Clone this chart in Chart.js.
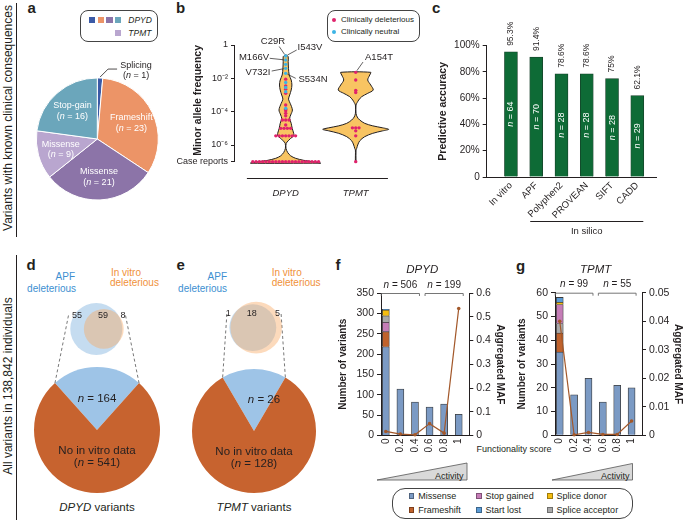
<!DOCTYPE html>
<html>
<head>
<meta charset="utf-8">
<script src="https://cdn.jsdelivr.net/npm/chart.js@4.4.1/dist/chart.umd.min.js"></script>
<style>
  body { margin: 0; background: #fff; }
  #fig { position: relative; width: 685px; height: 520px; overflow: hidden; font-family: "Liberation Sans", Arial, sans-serif; color: #231f20; }
  #fig canvas { position: absolute; }
  .tx { position: absolute; white-space: nowrap; line-height: 1; }
  .mid { transform: translate(-50%, -50%); }
  .lm { transform: translate(0, -50%); }
  .rm { transform: translate(-100%, -50%); }
  .panel { position: absolute; font-weight: bold; font-size: 15px; line-height: 1; }
  .vert { position: absolute; white-space: nowrap; font-size: 12px; line-height: 1; transform: translate(-50%, -50%) rotate(-90deg); }
  .box { position: absolute; border: 1px solid #444; box-sizing: border-box; }
  .sq { position: absolute; }
</style>
</head>
<body>
<div id="fig">
  <svg width="685" height="520" style="position:absolute;left:0;top:0">
    <line x1="16.5" y1="3" x2="16.5" y2="237" stroke="#231f20" stroke-width="1"/>
    <line x1="16.5" y1="255" x2="16.5" y2="520" stroke="#231f20" stroke-width="1"/>
    <polygon points="377,480 467,480 467,463" fill="#d9d9d9" stroke="#555" stroke-width="0.8"/>
    <polygon points="552,480 632.5,480 632.5,463.5" fill="#d9d9d9" stroke="#555" stroke-width="0.8"/>
  </svg>

  <div class="panel" style="left:27.5px;top:0px">a</div>
  <div class="panel" style="left:176px;top:0px">b</div>
  <div class="panel" style="left:432px;top:0px">c</div>
  <div class="panel" style="left:26.5px;top:256.5px">d</div>
  <div class="panel" style="left:176.5px;top:256.5px">e</div>
  <div class="panel" style="left:335.5px;top:256.5px">f</div>
  <div class="panel" style="left:516px;top:257.5px">g</div>

  <div class="vert" style="left:8px;top:118px">Variants with known clinical consequences</div>
  <div class="vert" style="left:8px;top:386px">All variants in 138,842 individuals</div>

  <div class="box" style="left:80px;top:10px;width:78px;height:32px;border-radius:8px"></div>
  <div class="tx lm" style="left:128.3px;top:20px;font-size:8.5px;font-style:italic">DPYD</div>
  <div class="tx lm" style="left:128.3px;top:32.7px;font-size:8.5px;font-style:italic">TPMT</div>

  <div class="box" style="left:326.7px;top:10px;width:93.3px;height:31.7px;border-radius:8px"></div>
  <div class="sq" style="left:332.3px;top:18px;width:4px;height:4px;border-radius:50%;background:#e0236c"></div>
  <div class="tx lm" style="left:341px;top:20px;font-size:8px">Clinically deleterious</div>
  <div class="sq" style="left:332.3px;top:30.3px;width:4px;height:4px;border-radius:50%;background:#3cb4e5"></div>
  <div class="tx lm" style="left:341px;top:32.3px;font-size:8px">Clinically neutral</div>

  <div class="tx rm" style="left:75px;top:276.7px;font-size:10px;color:#3d8fd1">APF</div>
  <div class="tx rm" style="left:76px;top:289px;font-size:10px;color:#3d8fd1">deleterious</div>
  <div class="tx lm" style="left:111px;top:272.7px;font-size:10px;color:#f0913a">In vitro</div>
  <div class="tx lm" style="left:110px;top:283.3px;font-size:10px;color:#f0913a">deleterious</div>
  <div class="tx rm" style="left:227px;top:276.7px;font-size:10px;color:#3d8fd1">APF</div>
  <div class="tx rm" style="left:227px;top:289px;font-size:10px;color:#3d8fd1">deleterious</div>
  <div class="tx lm" style="left:271.7px;top:272.7px;font-size:10px;color:#f0913a">In vitro</div>
  <div class="tx lm" style="left:271.7px;top:283.3px;font-size:10px;color:#f0913a">deleterious</div>
  <div class="tx mid" style="left:97px;top:508px;font-size:11.5px"><i>DPYD</i> variants</div>
  <div class="tx mid" style="left:254px;top:508px;font-size:11.5px"><i>TPMT</i> variants</div>

  <div class="tx mid" style="left:514px;top:449px;font-size:9px">Functionality score</div>
  <div class="tx rm" style="left:463.5px;top:475.5px;font-size:9px">Activity</div>
  <div class="tx rm" style="left:629.5px;top:475.5px;font-size:9px">Activity</div>
  <div class="box" style="left:391.7px;top:488.3px;width:241.6px;height:31px;border-radius:13px"></div>
</div>

<script>
// ---- a: variants with known clinical consequences ----
const aLabels = ['Splicing', 'Frameshift', 'Missense', 'Missense', 'Stop-gain'];
const aGenes = ['DPYD', 'DPYD', 'DPYD', 'TPMT', 'DPYD'];
const aCounts = [1, 23, 21, 9, 16];

// ---- b: minor allele frequency (log10); case reports sit at -7 ----
const bGenes = ['DPYD', 'TPMT'];
const bTickValues = [0, -2, -4, -6, -7];
const bTickLabels = ['1', '10⁻²', '10⁻⁴', '10⁻⁶', 'Case reports'];
const dpydViolinLog = [-7.09, -7.0, -6.92, -6.8, -6.65, -6.45, -6.2, -5.9, -5.75, -5.6, -5.45, -5.3, -5.0, -4.7, -4.4, -4.2, -3.9, -3.5, -3.25, -3.0, -2.7, -2.4, -2.1, -1.8, -1.4, -1.0, -0.7, -0.6];
const dpydViolinDensity = [35, 27, 18, 10, 5, 2, 0.3, 0.5, 2.5, 5, 8, 8, 6.5, 5.5, 4, 5, 6.7, 4.5, 2.8, 4, 5.5, 6.2, 5.5, 3.5, 2.8, 2.5, 2.5, 0.5];
const tpmtViolinLog = [-7.0, -6.3, -6.2, -6.0, -5.75, -5.5, -5.3, -5.15, -5.06, -4.97, -4.85, -4.7, -4.5, -4.32, -4.1, -3.6, -3.45, -3.3, -3.1, -2.9, -2.7, -2.4, -2.1, -1.8, -1.64];
const tpmtViolinDensity = [0.3, 0.3, 1, 2, 4, 9, 17, 27, 33, 27, 17, 9, 4, 1.5, 0.3, 0.3, 1.5, 3, 6, 12, 17.5, 15, 12, 14, 15];
const dpydNeutralLog = [-0.66, -0.9, -1.16, -1.4, -1.7, -2.25, -2.55, -2.8, -3.8];
const dpydDeleteriousLog = [-2.05, -2.45, -2.65, -2.9, -3.6, -3.85, -3.95, -4.1, -4.25, -4.5, -4.5, -4.5, -4.8, -5.0, -5.0, -5.0, -5.0,
  -5.45, -5.45, -5.45, -5.45, -5.45, -5.45, -5.45,
  -7, -7, -7, -7, -7, -7, -7, -7, -7, -7, -7, -7, -7, -7, -7, -7, -7, -7, -7, -7, -7];
const tpmtDeleteriousLog = [-1.64, -2.1, -2.72, -2.85, -4.97, -4.97, -4.97, -5.15, -5.45, -7];
const bVariantNames = ['C29R', 'I543V', 'M166V', 'V732I', 'S534N', 'A154T'];

// ---- c: predictive accuracy ----
const cLabels = ['In vitro', 'APF', 'Polyphen2', 'PROVEAN', 'SIFT', 'CADD'];
const cAccuracy = [95.3, 91.4, 78.6, 78.6, 75, 62.1];
const cN = [64, 70, 28, 28, 28, 29];
const cSilicoFrom = 1;

// ---- d, e: in vitro coverage ----
const dPie = [164, 541];           // with in vitro data, without
const dVenn = [55, 59, 8];         // APF only, both, in vitro only
const ePie = [26, 128];
const eVenn = [1, 18, 5];

// ---- f, g: functionality score ----
const fgScores = [0, 0.2, 0.4, 0.6, 0.8, 1];
const fgTickLabels = ['0', '0.2', '0.4', '0.6', '0.8', '1'];
const dpydMissense = [218, 114, 82, 70, 77, 52];
const dpydFrameshift = [37, 0, 0, 0, 0, 0];
const dpydStopGained = [23, 0, 0, 0, 0, 0];
const dpydSpliceAcceptor = [16, 0, 0, 0, 0, 0];
const dpydSpliceDonor = [14, 0, 0, 0, 0, 0];
const dpydStartLost = [2, 0, 0, 0, 0, 0];
const dpydMaf = [0.017, 0.006, 0.003, 0.05, 0.01, 0.535];
const tpmtMissense = [35, 17, 24, 14, 21, 20];
const tpmtFrameshift = [8, 0, 0, 0, 0, 0];
const tpmtStopGained = [8, 0, 0, 0, 0, 0];
const tpmtSpliceAcceptor = [4, 0, 0, 0, 0, 0];
const tpmtSpliceDonor = [1, 0, 0, 0, 0, 0];
const tpmtStartLost = [2, 0, 0, 0, 0, 0];
const tpmtMaf = [0.040, 0.0002, 0.001, 0.0003, 0.0003, 0.005];

// ---------------------------------------------------------------
const AX = '#231f20';
const FONT = '"Liberation Sans", Arial, Helvetica, sans-serif';
Chart.defaults.font.family = FONT;
Chart.defaults.font.size = 10;
Chart.defaults.color = AX;
Chart.defaults.animation = false;
Chart.defaults.responsive = false;
Chart.defaults.events = [];
Chart.defaults.plugins.legend.display = false;
Chart.defaults.plugins.tooltip.enabled = false;

const fig = document.getElementById('fig');

function canvasAt(box) {
  const c = document.createElement('canvas');
  c.width = box.w; c.height = box.h;
  c.style.left = box.l + 'px'; c.style.top = box.t + 'px';
  c.style.width = box.w + 'px'; c.style.height = box.h + 'px';
  fig.appendChild(c);
  return c;
}
function padFor(box, area, wl, wr, ht, hb) {
  return { left: area.l - box.l - wl, top: area.t - box.t - ht,
           right: box.l + box.w - area.r - wr, bottom: box.t + box.h - area.b - hb };
}
const fixW = w => s => { s.width = w; };
const fixH = h => s => { s.height = h; };

function richText(ctx, parts, x, y, size, color, align, weight) {
  ctx.save();
  ctx.fillStyle = color; ctx.textBaseline = 'middle'; ctx.textAlign = 'left';
  const fonts = parts.map(p => (p[1] ? 'italic ' : '') + (weight ? weight + ' ' : '') + size + 'px ' + FONT);
  const widths = parts.map((p, i) => { ctx.font = fonts[i]; return ctx.measureText(p[0]).width; });
  const total = widths.reduce((a, b) => a + b, 0);
  let cx = align === 'left' ? x : align === 'right' ? x - total : x - total / 2;
  parts.forEach((p, i) => { ctx.font = fonts[i]; ctx.fillText(p[0], cx, y); cx += widths[i]; });
  ctx.restore();
}
const nParts = n => [['n', true], [' = ' + n, false]];
const nParen = n => [['(', false], ['n', true], [' = ' + n + ')', false]];

function addSquare(x, y, size, color, border) {
  const d = document.createElement('div');
  d.className = 'sq';
  Object.assign(d.style, { left: x + 'px', top: y + 'px', width: size + 'px', height: size + 'px', background: color, boxSizing: 'border-box' });
  if (border) d.style.border = '0.5px solid rgba(0,0,0,0.35)';
  fig.appendChild(d);
}
function addText(text, x, y, size) {
  const d = document.createElement('div');
  d.className = 'tx lm';
  Object.assign(d.style, { left: x + 'px', top: y + 'px', fontSize: size + 'px' });
  d.textContent = text;
  fig.appendChild(d);
}

// ================= a =================
const aColors = ['#3b5aa6', '#ec9467', '#8c74a8', '#b9a6cf', '#6ba6bb'];
const aBox = { l: 25, t: 50, w: 150, h: 180 };
const aCenter = { x: 97.3, y: 139 }, aRadius = 61.5;
// legend squares: DPYD row, TPMT row, right aligned
const dpydIdx = aGenes.map((g, i) => g === 'DPYD' ? i : -1).filter(i => i >= 0);
const tpmtIdx = aGenes.map((g, i) => g === 'TPMT' ? i : -1).filter(i => i >= 0);
[[dpydIdx, 17], [tpmtIdx, 29.7]].forEach(([idx, top]) => {
  idx.forEach((k, j) => addSquare(115 - (idx.length - 1 - j) * 8.6, top, 6.3, aColors[k]));
});

new Chart(canvasAt(aBox), {
  type: 'pie',
  data: { labels: aLabels, datasets: [{ data: aCounts, backgroundColor: aColors, borderColor: '#fff', borderWidth: 1 }] },
  options: { layout: { padding: { left: aCenter.x - aRadius - aBox.l, top: aCenter.y - aRadius - aBox.t,
    right: aBox.l + aBox.w - aCenter.x - aRadius, bottom: aBox.t + aBox.h - aCenter.y - aRadius } } },
  plugins: [{
    id: 'aText',
    afterDatasetsDraw(chart) {
      const ctx = chart.ctx, arcs = chart.getDatasetMeta(0).data;
      const total = aCounts.reduce((a, b) => a + b, 0);
      arcs.forEach((arc, i) => {
        const mid = (arc.startAngle + arc.endAngle) / 2;
        if (aCounts[i] / total < 0.05) {
          const r = arc.outerRadius + 1;
          const x0 = arc.x + Math.cos(mid) * r, y0 = arc.y + Math.sin(mid) * r;
          ctx.save(); ctx.strokeStyle = AX; ctx.lineWidth = 0.8;
          ctx.beginPath(); ctx.moveTo(x0, y0); ctx.lineTo(x0 + 8, y0 - 8); ctx.lineTo(x0 + 17, y0 - 8); ctx.stroke();
          ctx.restore();
          richText(ctx, [[aLabels[i], false]], x0 + 36, y0 - 11.5, 9, AX);
          richText(ctx, nParen(aCounts[i]), x0 + 36, y0 - 1.5, 9, AX);
        } else {
          const r = arc.outerRadius * 0.62;
          const x = arc.x + Math.cos(mid) * r, y = arc.y + Math.sin(mid) * r;
          richText(ctx, [[aLabels[i], false]], x, y - 5, 9, '#fff');
          richText(ctx, nParen(aCounts[i]), x, y + 5.5, 9, '#fff');
        }
      });
    }
  }]
});

// ================= b =================
const bBox = { l: 168, t: 20, w: 267, h: 190 };
const bArea = { l: 235, t: 45, r: 395, b: 178 };
const violinUnitsPerDensity = 1 / 70;
const swarmStep = 0.047;

function violin(gx, logs, dens) {
  const pts = [];
  logs.forEach((v, i) => pts.push({ x: gx + dens[i] * violinUnitsPerDensity, y: v }));
  for (let i = logs.length - 1; i >= 0; i--) pts.push({ x: gx - dens[i] * violinUnitsPerDensity, y: logs[i] });
  pts.push(pts[0]);
  return pts;
}
function swarm(values, gx) {
  const total = {}, seen = {};
  values.forEach(v => { total[v] = (total[v] || 0) + 1; });
  return values.map(v => {
    const k = seen[v] = (seen[v] || 0) + 1;
    return { x: gx + (k - 1 - (total[v] - 1) / 2) * swarmStep, y: v };
  });
}
const pointStyle = { showLine: false, pointRadius: 1.7, pointBorderWidth: 0, order: 0 };
const violinStyle = { showLine: true, fill: 'shape', backgroundColor: '#f8c462', borderColor: AX, borderWidth: 1, pointRadius: 0, tension: 0.3, order: 1 };

new Chart(canvasAt(bBox), {
  type: 'line',
  data: { datasets: [
    { ...pointStyle, data: swarm(dpydNeutralLog, 1), backgroundColor: '#3cb4e5', borderColor: '#3cb4e5' },
    { ...pointStyle, data: swarm(dpydDeleteriousLog, 1), backgroundColor: '#e0236c', borderColor: '#e0236c' },
    { ...pointStyle, data: swarm(tpmtDeleteriousLog, 2), backgroundColor: '#e0236c', borderColor: '#e0236c' },
    { ...violinStyle, data: violin(1, dpydViolinLog, dpydViolinDensity) },
    { ...violinStyle, data: violin(2, tpmtViolinLog, tpmtViolinDensity) }
  ] },
  options: {
    layout: { padding: padFor(bBox, bArea, bArea.l - bBox.l, 0, 0, 24) },
    scales: {
      x: { type: 'linear', min: 0.276, max: 2.561, offset: false, afterFit: fixH(24),
        afterBuildTicks: s => { s.ticks = bGenes.map((g, i) => ({ value: i + 1 })); },
        ticks: { callback: v => bGenes[v - 1], font: { size: 9.5, style: 'italic' }, padding: 10, maxRotation: 0 },
        grid: { display: false, drawTicks: false }, border: { display: false } },
      y: { min: -7.98, max: 0, afterFit: fixW(bArea.l - bBox.l),
        afterBuildTicks: s => { s.ticks = bTickValues.map(v => ({ value: v })); },
        ticks: { callback: (v, i) => bTickLabels[i], font: { size: 9 }, padding: 3 },
        grid: { drawOnChartArea: false, tickLength: 4, color: AX }, border: { display: false },
        title: { display: true, text: 'Minor allele frequency', align: 'end', font: { size: 10.5, weight: 'bold' }, padding: { top: 23.7, bottom: 0 } } }
    }
  },
  plugins: [{
    id: 'bAxesAndLabels',
    afterDatasetsDraw(chart) {
      const { ctx, chartArea: a, scales: { x, y } } = chart;
      ctx.save(); ctx.strokeStyle = AX; ctx.lineWidth = 1;
      ctx.beginPath();
      ctx.moveTo(a.left - 0.5, y.getPixelForValue(bTickValues[0]));
      ctx.lineTo(a.left - 0.5, y.getPixelForValue(bTickValues[bTickValues.length - 1]));
      ctx.moveTo(x.getPixelForValue(0.446), a.bottom + 0.5);
      ctx.lineTo(x.getPixelForValue(2.46), a.bottom + 0.5);
      ctx.stroke();
      // [dataset, point, text dx, text dy, leader dx, leader dy]
      const anchors = [[0, 0, -12.7, -15, -6.5, -9.5], [0, 0, 24.3, -9, 11, -6], [0, 1, -31.7, -3, -16, -1.7],
                       [0, 3, -27.7, 4.4, -14, 2.7], [0, 4, 27.3, 5.7, 10, 5], [2, 0, 23.3, -15, 7.3, -10.3]];
      ctx.lineWidth = 0.7;
      anchors.forEach((an, k) => {
        const p = chart.getDatasetMeta(an[0]).data[an[1]];
        const len = Math.hypot(an[4], an[5]);
        ctx.beginPath();
        ctx.moveTo(p.x + an[4], p.y + an[5]);
        ctx.lineTo(p.x + an[4] * 2 / len, p.y + an[5] * 2 / len);
        ctx.stroke();
        richText(ctx, [[bVariantNames[k], false]], p.x + an[2], p.y + an[3], 9.5, AX);
      });
      ctx.restore();
    }
  }]
});

// ================= c =================
const cBox = { l: 435, t: 0, w: 250, h: 245 };
const cArea = { l: 486.7, t: 45.7, r: 656, b: 177 };
new Chart(canvasAt(cBox), {
  type: 'bar',
  data: { datasets: [{ data: cLabels.map((_, i) => ({ x: i, y: cAccuracy[i] })),
    backgroundColor: '#0e6b36', borderColor: '#17412a', borderWidth: 0.8, barThickness: 13, borderSkipped: 'start' }] },
  options: {
    layout: { padding: padFor(cBox, cArea, 51.7, 0, 0, 45) },
    scales: {
      x: { type: 'linear', min: -0.96, max: 5.74, offset: false, afterFit: fixH(45),
        afterBuildTicks: s => { s.ticks = cLabels.map((_, i) => ({ value: i })); },
        ticks: { callback: v => cLabels[v], minRotation: 45, maxRotation: 45, autoSkip: false, padding: 3, font: { size: 9.5 } },
        grid: { display: false, drawTicks: false, offset: false }, border: { color: AX } },
      y: { min: 0, max: 100, afterFit: fixW(51.7),
        ticks: { stepSize: 20, callback: v => v === 0 ? '0' : v + '%', font: { size: 10 }, padding: 3 },
        grid: { drawOnChartArea: false, tickLength: 4, color: AX }, border: { color: AX },
        title: { display: true, text: 'Predictive accuracy', font: { size: 10.5, weight: 'bold' }, padding: { top: 2, bottom: 0 } } }
    }
  },
  plugins: [{
    id: 'cText',
    afterDatasetsDraw(chart) {
      const ctx = chart.ctx, bars = chart.getDatasetMeta(0).data;
      bars.forEach((b, i) => {
        ctx.save(); ctx.translate(b.x, b.y - 6); ctx.rotate(-Math.PI / 2);
        richText(ctx, [[cAccuracy[i] + '%', false]], 0, 0, 8.5, AX, 'left');
        ctx.restore();
        ctx.save(); ctx.translate(b.x, (b.y + b.base) / 2); ctx.rotate(-Math.PI / 2);
        richText(ctx, nParts(cN[i]), 0, 0, 9, '#fff');
        ctx.restore();
      });
      const x0 = bars[cSilicoFrom].x - 6, x1 = bars[bars.length - 1].x + 6, yy = chart.chartArea.bottom + 44;
      ctx.save(); ctx.strokeStyle = AX; ctx.lineWidth = 1;
      ctx.beginPath(); ctx.moveTo(x0, yy + 0.5); ctx.lineTo(x1, yy + 0.5); ctx.stroke(); ctx.restore();
      richText(ctx, [['In silico', false]], (x0 + x1) / 2, yy + 10, 9.5, AX);
    }
  }]
});

// ================= d, e =================
function lensArea(r1, r2, d) {
  if (d >= r1 + r2) return 0;
  if (d <= Math.abs(r1 - r2)) return Math.PI * Math.min(r1, r2) ** 2;
  const a1 = Math.acos((d * d + r1 * r1 - r2 * r2) / (2 * d * r1));
  const a2 = Math.acos((d * d + r2 * r2 - r1 * r1) / (2 * d * r2));
  return r1 * r1 * a1 + r2 * r2 * a2 - 0.5 * Math.sqrt((-d + r1 + r2) * (d + r1 - r2) * (d - r1 + r2) * (d + r1 + r2));
}
function solveDistance(r1, r2, target) {
  let lo = Math.abs(r1 - r2), hi = r1 + r2;
  for (let i = 0; i < 60; i++) {
    const m = (lo + hi) / 2;
    if (lensArea(r1, r2, m) > target) lo = m; else hi = m;
  }
  return (lo + hi) / 2;
}

function vennPiePanel(p) {
  const box = p.box;
  const total = p.pie[0] + p.pie[1];
  const nA = p.venn[0] + p.venn[1], nB = p.venn[1] + p.venn[2];
  const k = p.vennSize / Math.sqrt(Math.max(nA, nB));
  const rA = k * Math.sqrt(nA), rB = k * Math.sqrt(nB);
  const d = solveDistance(rA, rB, Math.PI * k * k * p.venn[1]);
  const ext0 = Math.min(-rA, d - rB), ext1 = Math.max(rA, d + rB);
  const ax = p.cx - (ext0 + ext1) / 2, bx = ax + d;
  const vLeft = ax + ext0, vRight = ax + ext1;

  new Chart(canvasAt(box), {
    type: 'pie',
    data: { datasets: [{ data: p.pie, backgroundColor: ['#9ec4e7', '#c7632f'], borderWidth: 0 }] },
    options: { rotation: -180 * p.pie[0] / total,
      layout: { padding: { left: p.cx - p.r - box.l, top: p.cy - p.r - box.t,
        right: box.l + box.w - p.cx - p.r, bottom: box.t + box.h - p.cy - p.r } } },
    plugins: [{
      id: 'pieText',
      afterDatasetsDraw(chart) {
        const ctx = chart.ctx, arcs = chart.getDatasetMeta(0).data, a0 = arcs[0], a1 = arcs[1];
        ctx.save(); ctx.strokeStyle = '#555'; ctx.lineWidth = 0.8; ctx.setLineDash([3, 2.5]);
        [[a0.startAngle, vLeft], [a0.endAngle, vRight]].forEach(([ang, vx]) => {
          ctx.beginPath();
          ctx.moveTo(vx - box.l, p.vennY - box.t);
          ctx.lineTo(a0.x + Math.cos(ang) * a0.outerRadius, a0.y + Math.sin(ang) * a0.outerRadius);
          ctx.stroke();
        });
        ctx.restore();
        const m0 = (a0.startAngle + a0.endAngle) / 2, m1 = (a1.startAngle + a1.endAngle) / 2;
        richText(ctx, nParts(p.pie[0]), a0.x + Math.cos(m0) * a0.outerRadius * 0.5 + p.labelDx, a0.y + Math.sin(m0) * a0.outerRadius * 0.5, 11.5, AX);
        const x1 = a1.x + Math.cos(m1) * a1.outerRadius * 0.43, y1 = a1.y + Math.sin(m1) * a1.outerRadius * 0.43;
        richText(ctx, [['No in vitro data', false]], x1, y1 - 6, 11.5, AX);
        richText(ctx, nParen(p.pie[1]), x1, y1 + 6, 11.5, AX);
      }
    }]
  });

  new Chart(canvasAt(box), {
    type: 'bubble',
    data: { datasets: [
      { data: [{ x: bx - box.l, y: p.vennY - box.t, r: rB }], backgroundColor: 'rgba(247,168,96,0.42)', borderWidth: 0 },
      { data: [{ x: ax - box.l, y: p.vennY - box.t, r: rA }], backgroundColor: 'rgba(140,186,226,0.5)', borderWidth: 0 }
    ] },
    options: { layout: { padding: 0 },
      scales: { x: { display: false, min: 0, max: box.w }, y: { display: false, min: 0, max: box.h, reverse: true } } },
    plugins: [{
      id: 'vennText',
      afterDatasetsDraw(chart) {
        const ctx = chart.ctx, y = p.vennY - box.t;
        const aL = ax - rA, aR = ax + rA, bL = bx - rB, bR = bx + rB;
        const xs = [(aL + bL) / 2, (Math.max(aL, bL) + Math.min(aR, bR)) / 2, (aR + bR) / 2];
        xs.forEach((xx, i) => richText(ctx, [[String(p.venn[i]), false]], xx - box.l, y, 9, AX));
      }
    }]
  });
}

vennPiePanel({ box: { l: 20, t: 255, w: 160, h: 250 }, cx: 97, cy: 430, r: 63, pie: dPie, venn: dVenn, vennSize: 26, vennY: 315.5, labelDx: 0 });
vennPiePanel({ box: { l: 178, t: 255, w: 160, h: 250 }, cx: 254, cy: 431, r: 62, pie: ePie, venn: eVenn, vennSize: 25.8, vennY: 314, labelDx: 10 });

// ================= f, g =================
const consequenceColors = { 'Missense': '#7b9ac4', 'Frameshift': '#c0622c', 'Stop gained': '#c57db7',
  'Start lost': '#5b9bd5', 'Splice donor': '#f5bd10', 'Splice acceptor': '#a9a9a9' };
const legendRows = [['Missense', 'Stop gained', 'Splice donor'], ['Frameshift', 'Start lost', 'Splice acceptor']];
const legendX = [411.7, 479, 550], legendY = [496, 510];
legendRows.forEach((row, r) => row.forEach((name, c) => {
  addSquare(legendX[c] - 2.6, legendY[r] - 2.6, 5.2, consequenceColors[name], true);
  addText(name, legendX[c] + 6.6, legendY[r], 9);
}));

function consequencePanel(o) {
  const box = o.box, area = o.area;
  const wl = area.l - box.l, wr = box.l + box.w - area.r, hb = 22;
  const totals = fgScores.map((_, i) => o.stack.reduce((s, k) => s + o.counts[k][i], 0));
  const datasets = o.stack.map(k => ({
    type: 'bar', label: k, yAxisID: 'y', order: 1,
    data: fgScores.map((s, i) => ({ x: s, y: o.counts[k][i] || null })),
    backgroundColor: consequenceColors[k], borderColor: '#3a3a3a', borderWidth: 0.8, barThickness: 7
  }));
  datasets.push({ type: 'line', yAxisID: 'y1', order: 0, clip: false,
    data: fgScores.map((s, i) => ({ x: s, y: o.maf[i] })),
    borderColor: '#a3582a', backgroundColor: '#a3582a', borderWidth: 1.2, pointRadius: 1.8, pointBorderWidth: 0 });

  new Chart(canvasAt(box), {
    type: 'bar',
    data: { datasets },
    options: {
      layout: { padding: padFor(box, area, wl, wr, 0, hb) },
      scales: {
        x: { type: 'linear', min: -0.066, max: 1.145, offset: false, stacked: true, afterFit: fixH(hb),
          afterBuildTicks: s => { s.ticks = fgScores.map(v => ({ value: v })); },
          ticks: { callback: (v, i) => fgTickLabels[i], minRotation: 90, maxRotation: 90, autoSkip: false, padding: 3, font: { size: 10 } },
          grid: { display: false, drawTicks: false, offset: false }, border: { color: AX } },
        y: { stacked: true, min: 0, max: o.yMax, afterFit: fixW(wl),
          ticks: { stepSize: o.yStep, font: { size: 10.5 }, padding: 3 },
          grid: { drawOnChartArea: false, tickLength: 4, color: AX }, border: { color: AX },
          title: { display: true, text: 'Number of variants', font: { size: 10, weight: 'bold' }, padding: { top: o.lt, bottom: 0 } } },
        y1: { position: 'right', min: 0, max: o.mafMax, afterFit: fixW(wr),
          ticks: { stepSize: o.mafStep, font: { size: 10.5 }, padding: 3 },
          grid: { drawOnChartArea: false, tickLength: 4, color: AX }, border: { color: AX },
          title: { display: true, text: 'Aggregated MAF', font: { size: 10, weight: 'bold' }, padding: { top: o.rt, bottom: 0 } } }
      }
    },
    plugins: [{
      id: 'fgText',
      afterDatasetsDraw(chart) {
        const ctx = chart.ctx, top = chart.chartArea.top, bars = chart.getDatasetMeta(0).data;
        const low = fgScores.map((s, i) => i).filter(i => fgScores[i] < 0.5);
        const high = fgScores.map((s, i) => i).filter(i => fgScores[i] >= 0.5);
        ctx.save(); ctx.strokeStyle = '#666'; ctx.lineWidth = 0.9;
        [low, high].forEach(g => {
          const x0 = bars[g[0]].x - bars[g[0]].width / 2 - 1, x1 = bars[g[g.length - 1]].x + bars[g[g.length - 1]].width / 2 + 1;
          const n = g.reduce((s, i) => s + totals[i], 0);
          ctx.beginPath(); ctx.moveTo(x0, top + 3); ctx.lineTo(x0, top + 0.5); ctx.lineTo(x1, top + 0.5); ctx.lineTo(x1, top + 3); ctx.stroke();
          richText(ctx, nParts(n), (x0 + x1) / 2, top - 8, 10, AX);
        });
        ctx.restore();
        richText(ctx, [[o.gene, true]], (bars[0].x + bars[bars.length - 1].x) / 2, top - 23, 11.5, AX);
      }
    }]
  });
}

consequencePanel({
  gene: 'DPYD', box: { l: 325, t: 260, w: 185, h: 200 }, area: { l: 381, t: 293, r: 469.3, b: 435.5 },
  counts: { 'Missense': dpydMissense, 'Frameshift': dpydFrameshift, 'Stop gained': dpydStopGained,
    'Splice acceptor': dpydSpliceAcceptor, 'Splice donor': dpydSpliceDonor, 'Start lost': dpydStartLost },
  stack: ['Missense', 'Frameshift', 'Stop gained', 'Splice acceptor', 'Splice donor', 'Start lost'],
  maf: dpydMaf, yMax: 350, yStep: 50, mafMax: 0.6, mafStep: 0.1, lt: 12, rt: 4
});
consequencePanel({
  gene: 'TPMT', box: { l: 500, t: 260, w: 185, h: 200 }, area: { l: 555, t: 292.7, r: 642, b: 435.3 },
  counts: { 'Missense': tpmtMissense, 'Frameshift': tpmtFrameshift, 'Stop gained': tpmtStopGained,
    'Splice acceptor': tpmtSpliceAcceptor, 'Splice donor': tpmtSpliceDonor, 'Start lost': tpmtStartLost },
  stack: ['Missense', 'Frameshift', 'Splice acceptor', 'Stop gained', 'Splice donor', 'Start lost'],
  maf: tpmtMaf, yMax: 60, yStep: 10, mafMax: 0.05, mafStep: 0.01, lt: 16, rt: 1
});
</script>
</body>
</html>
